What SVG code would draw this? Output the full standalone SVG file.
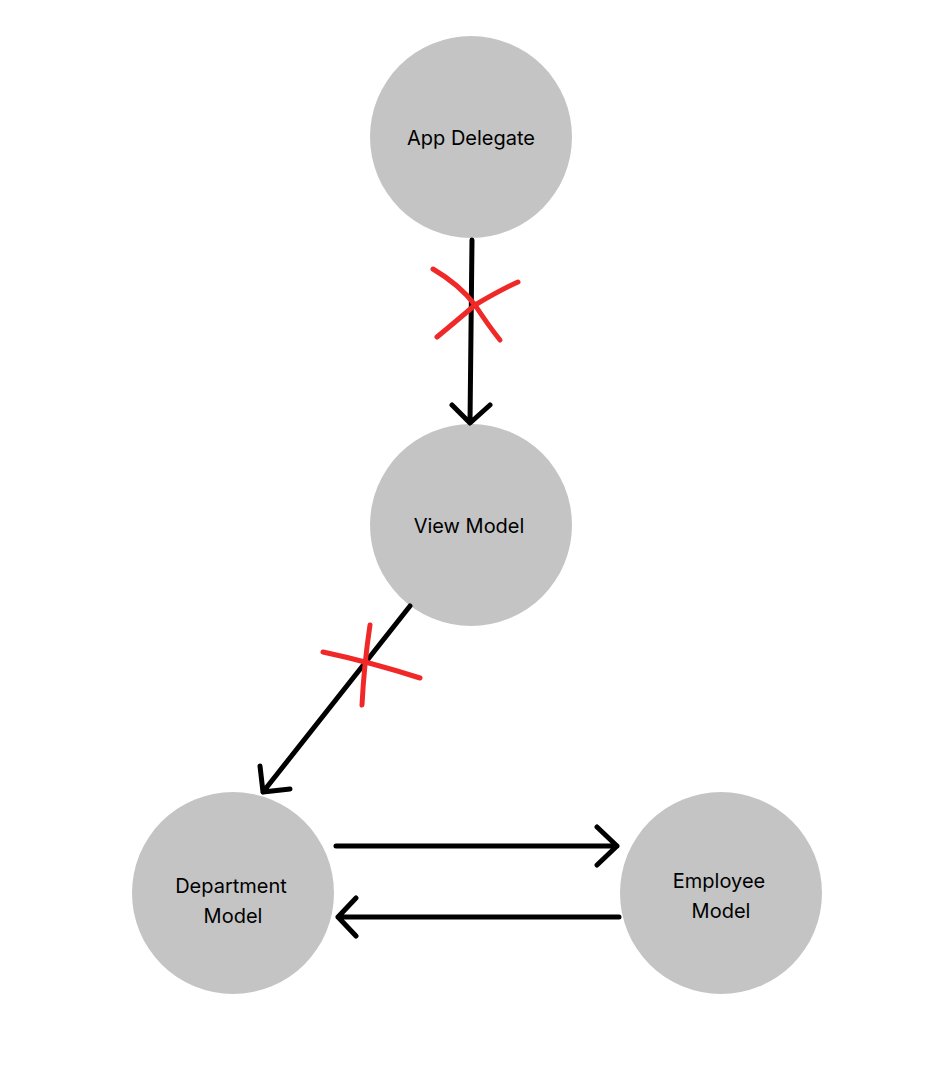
<svg xmlns="http://www.w3.org/2000/svg" width="950" height="1076" viewBox="0 0 950 1076">
<style>
.n{fill:#c4c4c4}
.t{font-family:Inter,"Noto Sans",sans-serif;font-size:20px;fill:#000;text-anchor:middle}
.c{stroke:#000;stroke-width:5;fill:none;stroke-linecap:round;stroke-linejoin:round}
.x{stroke:#f02828;stroke-width:5;fill:none;stroke-linecap:round}
</style>
<rect width="950" height="1076" fill="#fff"/>
<g id="app-delegate"><circle class="n" cx="471" cy="137" r="101"/><text class="t" x="471" y="145">App Delegate</text></g>
<g id="view-model"><circle class="n" cx="471" cy="525" r="101"/><text class="t" x="469" y="533">View Model</text></g>
<g id="department-model"><circle class="n" cx="233" cy="893" r="101"/><text class="t" x="231" y="893">Department</text><text class="t" x="233" y="923">Model</text></g>
<g id="employee-model"><circle class="n" cx="721" cy="893" r="101"/><text class="t" x="719" y="888">Employee</text><text class="t" x="721" y="918">Model</text></g>
<g id="connectors">
<path class="c" d="M472 240 L470 423 M452 405 L470 423 L490 405"/>
<path class="c" d="M410 606 L263 792 M260 766 L263 792 L290 789"/>
<path class="c" d="M336 846 L617 846 M597 827 L617 846 L597 865"/>
<path class="c" d="M619 917 L338 917 M356 898 L338 917 L356 936"/>
<path class="x" d="M433 269 Q460 285 475 305 Q488 325 500 340"/>
<path class="x" d="M437 337 Q460 318 475 305 Q500 290 518 282"/>
<path class="x" d="M323 652 Q370 662 420 678"/>
<path class="x" d="M370 625 Q364 665 362 705"/>
</g>
</svg>
